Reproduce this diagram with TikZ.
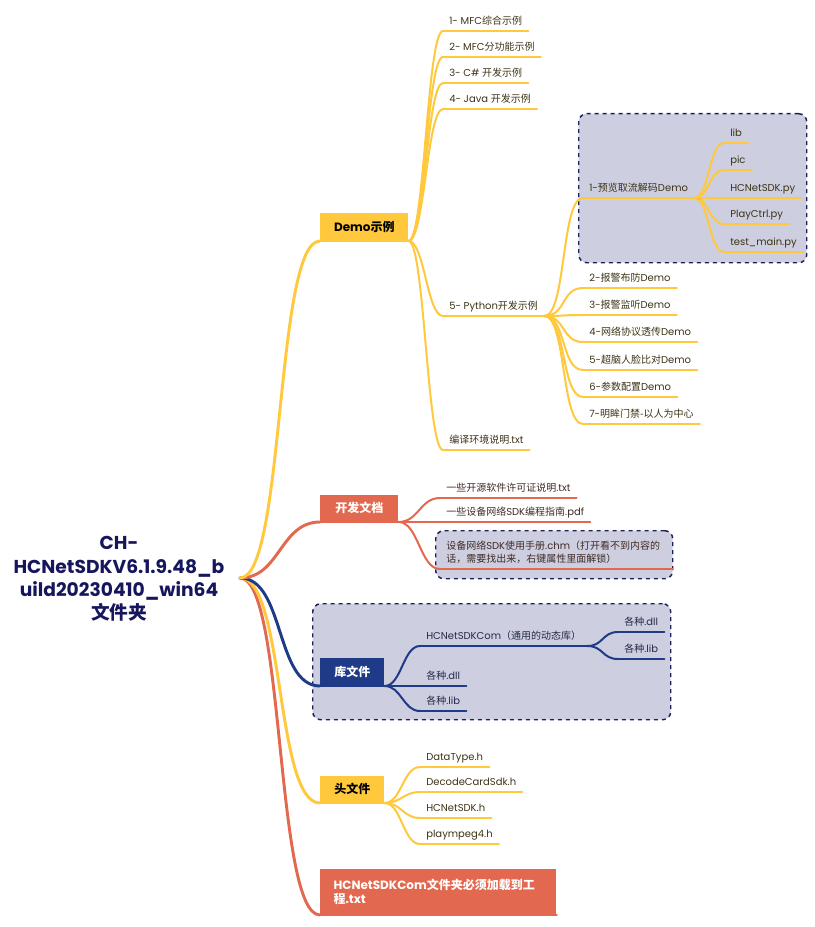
\documentclass[tikz,border=0pt]{standalone}
\usepackage{fontspec}
\setmainfont{Poppins}
\newfontfamily\zhf{Noto Sans CJK SC}
\newcommand\zh[1]{{\zhf #1}}
\usetikzlibrary{calc}
\definecolor{ylw}{HTML}{FFC83D}
\definecolor{crl}{HTML}{E2694F}
\definecolor{nvy}{HTML}{1F3A87}
\definecolor{lav}{HTML}{CDCFE0}
\definecolor{dsh}{HTML}{1B2059}
\definecolor{rootc}{HTML}{16165C}
\definecolor{ytxt}{HTML}{3E3316}
\definecolor{ctxt}{HTML}{3F2A24}
\definecolor{ntxt}{HTML}{262A4A}
\tikzset{
  leaf/.style={anchor=south west, inner xsep=4.5pt, inner ysep=2.5pt, text depth=2pt, font=\fontsize{7.5}{9.75}\selectfont},
  leafm/.style={anchor=south west, inner xsep=4.5pt, inner ysep=4pt, font=\fontsize{7.5}{9.75}\selectfont},
  yline/.style={draw=ylw, line width=1.5pt, line cap=round},
  cline/.style={draw=crl, line width=1.5pt, line cap=round},
  nline/.style={draw=nvy, line width=1.5pt, line cap=round},
  ymain/.style={draw=ylw, line width=2.2pt, line cap=round},
  cmain/.style={draw=crl, line width=2.2pt, line cap=round},
  nmain/.style={draw=nvy, line width=2.2pt, line cap=round},
  topbox/.style={anchor=south west, inner sep=0pt, font=\fontsize{9}{11}\selectfont\bfseries},
  groupbox/.style={draw=dsh, fill=lav, dashed, line width=1.1pt, rounded corners=6pt},
}
\newcommand\conn[4]{\draw[#1] (#2) .. controls ($(#2)+(#4,0)$) and ($(#3)-(#4,0)$) .. (#3);}
\newcommand\lf[5]{\node[leaf,text=#3] (#1) at (#4) {#5}; \draw[#2] (#1.south west) -- (#1.south east);}
\begin{document}
\begin{tikzpicture}[x=0.75pt,y=-0.75pt]
\useasboundingbox (0,0) rectangle (814,927);
% group boxes
\node[groupbox, minimum width=171pt, minimum height=111.75pt, anchor=north west] (gpy) at (578,113) {};
\node[groupbox, minimum width=177.75pt, minimum height=36pt, anchor=north west] (gdoc) at (435,530) {};
\node[groupbox, minimum width=268.5pt, minimum height=87pt, anchor=north west] (glib) at (312,603) {};

% root
\node[text=rootc, align=center, font=\fontsize{14}{17.6}\selectfont\bfseries] (root) at (119,579)
  {CH-\\HCNetSDKV6.1.9.48\_b\\uild20230410\_win64\\\zh{文件夹}};
\coordinate (r) at (240,578);

% main boxes
\node[topbox, fill=ylw, minimum width=66pt, minimum height=21pt, text=black] (demo) at (320,241) {Demo\zh{示例}};
\node[topbox, fill=crl, minimum width=58.5pt, minimum height=20.25pt, text=white] (doc) at (320,522) {\zh{开发文档}};
\node[topbox, fill=nvy, minimum width=48pt, minimum height=21pt, text=white] (lib) at (320,686) {\zh{库文件}};
\node[topbox, fill=ylw, minimum width=48pt, minimum height=20.25pt, text=black] (hdr) at (320,803) {\zh{头文件}};
\node[topbox, fill=crl, minimum width=177pt, minimum height=34.5pt, text=white, align=left, inner xsep=9.75pt, text width=157pt] (must) at (320,915)
  {HCNetSDKCom\zh{文件夹必须加载到工}\\\zh{程}.txt};

% root connectors
\conn{cmain}{r}{must.south west}{45}
\conn{ymain}{r}{hdr.south west}{45}
\conn{nmain}{r}{lib.south west}{45}
\conn{cmain}{r}{doc.south west}{40}
\conn{ymain}{r}{demo.south west}{45}
\draw[ymain] (demo.south west) -- (demo.south east);
\draw[cmain] (doc.south west) -- (doc.south east);
\draw[nmain] (lib.south west) -- (lib.south east);
\draw[ymain] (hdr.south west) -- (hdr.south east);
\draw[cmain] (must.south west) -- (must.south east);

% Demo children
\lf{d1}{yline}{ytxt}{443,31}{1- MFC\zh{综合示例}}
\lf{d2}{yline}{ytxt}{443,57}{2- MFC\zh{分功能示例}}
\lf{d3}{yline}{ytxt}{443,83}{3- C\# \zh{开发示例}}
\lf{d4}{yline}{ytxt}{443,109}{4- Java \zh{开发示例}}
\lf{d5}{yline}{ytxt}{443,316}{5- Python\zh{开发示例}}
\lf{d6}{yline}{ytxt}{443,450}{\zh{编译环境说明}.txt}
\foreach \n in {d1,d2,d3,d4,d5,d6}{\conn{yline}{demo.south east}{\n.south west}{16}}

% Python children
\lf{p1}{yline}{ytxt}{583,198}{1-\zh{预览取流解码}Demo\hspace{6pt}}
\lf{p2}{yline}{ytxt}{583,288}{2-\zh{报警布防}Demo}
\lf{p3}{yline}{ytxt}{583,315}{3-\zh{报警监听}Demo}
\lf{p4}{yline}{ytxt}{583,342}{4-\zh{网络协议透传}Demo}
\lf{p5}{yline}{ytxt}{583,370}{5-\zh{超脑人脸比对}Demo}
\lf{p6}{yline}{ytxt}{583,397}{6-\zh{参数配置}Demo}
\lf{p7}{yline}{ytxt}{583,424}{7-\zh{明眸门禁-以人为中心}}
\foreach \n in {p1,p2,p3,p4,p5,p6,p7}{\conn{yline}{d5.south east}{\n.south west}{22}}

% p1 children
\lf{l1}{yline}{ytxt}{724,143}{lib}
\lf{l2}{yline}{ytxt}{724,170}{pic}
\lf{l3}{yline}{ytxt}{724,198}{HCNetSDK.py}
\lf{l4}{yline}{ytxt}{724,224}{PlayCtrl.py}
\lf{l5}{yline}{ytxt}{724,252}{test\_main.py}
\foreach \n in {l1,l2,l3,l4,l5}{\conn{yline}{p1.south east}{\n.south west}{15}}

% doc children
\lf{k1}{cline}{ctxt}{440,498}{\zh{一些开源软件许可证说明}.txt}
\lf{k2}{cline}{ctxt}{440,522}{\zh{一些设备网络}SDK\zh{编程指南}.pdf}
\node[leafm, text=ctxt, align=left, text width=165pt] (k3) at (440,569)
  {\zh{设备网络}SDK\zh{使用手册}.chm\zh{（打开看不到内容的}\\\zh{话，需要找出来，右键属性里面解锁）}};
\draw[cline] (k3.south west) -- (k3.south east);
\foreach \n in {k1,k2,k3}{\conn{cline}{doc.south east}{\n.south west}{20}}

% lib children
\lf{w1}{nline}{ntxt}{420,646}{HCNetSDKCom\zh{（通用的动态库）}}
\lf{w2}{nline}{ntxt}{420,686}{\zh{各种}.dll}
\lf{w3}{nline}{ntxt}{420,711}{\zh{各种}.lib}
\foreach \n in {w1,w2,w3}{\conn{nline}{lib.south east}{\n.south west}{17}}
\lf{w11}{nline}{ntxt}{618,632}{\zh{各种}.dll}
\lf{w12}{nline}{ntxt}{618,659}{\zh{各种}.lib}
\foreach \n in {w11,w12}{\conn{nline}{w1.south east}{\n.south west}{16}}

% header children
\lf{t1}{yline}{ytxt}{420,767}{DataType.h}
\lf{t2}{yline}{ytxt}{420,792}{DecodeCardSdk.h}
\lf{t3}{yline}{ytxt}{420,818}{HCNetSDK.h}
\lf{t4}{yline}{ytxt}{420,844}{plaympeg4.h}
\foreach \n in {t1,t2,t3,t4}{\conn{yline}{hdr.south east}{\n.south west}{17}}
\end{tikzpicture}
\end{document}
